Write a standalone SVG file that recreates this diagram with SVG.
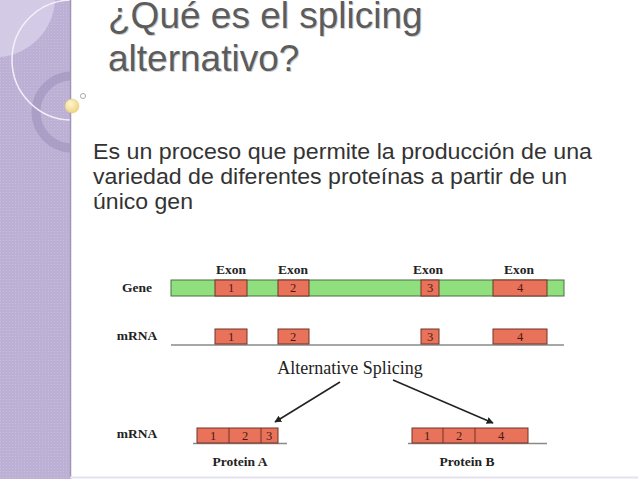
<svg xmlns="http://www.w3.org/2000/svg" width="638" height="479" viewBox="0 0 638 479">
<defs>
<style>
.title{font-family:"Liberation Sans",Arial,sans-serif;font-size:37px;fill:#5c5c5c}
.tshadow{font-family:"Liberation Sans",Arial,sans-serif;font-size:37px;fill:#d0d0d0}
.body{font-family:"Liberation Sans",Arial,sans-serif;font-size:22.5px;fill:#333333}
.lbl{font-family:"Liberation Serif","Times New Roman",serif;font-size:13.5px;font-weight:bold;fill:#222;text-anchor:middle}
.num{font-family:"Liberation Serif","Times New Roman",serif;font-size:12.5px;fill:#4a1a10;text-anchor:middle}
.alt{font-family:"Liberation Serif","Times New Roman",serif;font-size:18px;fill:#222;text-anchor:middle}
.gene{fill:#8fdf7f;stroke:#4d6e45;stroke-width:1}
.exon{fill:#e8725a;stroke:#6e3526;stroke-width:1}
.base{stroke:#8a8a8a;stroke-width:1.5;fill:none}
.arrow{stroke:#222;stroke-width:1.5;fill:none;marker-end:url(#ah)}
</style>
<marker id="ah" viewBox="0 0 10 10" refX="9" refY="5" markerWidth="7" markerHeight="7" markerUnits="userSpaceOnUse" orient="auto">
<path d="M0,0 L10,5 L0,10 z" fill="#222"/>
</marker>
<pattern id="dots" width="3" height="3" patternUnits="userSpaceOnUse">
<rect width="3" height="3" fill="#bcb0d4"/>
<rect width="1" height="1" fill="#c7bddc"/>
</pattern>
<radialGradient id="yel" cx="0.4" cy="0.35" r="0.7">
<stop offset="0" stop-color="#fff6cf"/>
<stop offset="1" stop-color="#ecd27f"/>
</radialGradient>
<clipPath id="side"><rect x="0" y="0" width="70" height="479"/></clipPath>
</defs>
<rect width="638" height="479" fill="#ffffff"/>
<g id="sidebar">
<rect x="0" y="0" width="70" height="479" fill="url(#dots)"/>
<g clip-path="url(#side)">
<path d="M0,0 H55 A60,60 0 0 1 0,57 Z" fill="#d8d1e8" opacity="0.8"/>
<circle cx="72" cy="112" r="36" fill="none" stroke="#a092bd" stroke-width="9" opacity="0.6"/>
<circle cx="72" cy="60" r="60" fill="none" stroke="#f4f0fa" stroke-width="1.5"/>
</g>
<line x1="70.5" y1="0" x2="70.5" y2="479" stroke="#9f93b8" stroke-width="1.5"/>
<circle cx="72" cy="106" r="7" fill="url(#yel)" stroke="#e2c870" stroke-width="0.5"/>
<circle cx="83" cy="96" r="2.5" fill="none" stroke="#aaaaaa" stroke-width="1"/>
<line x1="70" y1="477.5" x2="638" y2="477.5" stroke="#e4e2ef" stroke-width="2"/>
</g>
<g id="title">
<text class="tshadow" x="109" y="29">¿Qué es el splicing</text>
<text class="tshadow" x="109" y="72">alternativo?</text>
<text class="title" x="108" y="28">¿Qué es el splicing</text>
<text class="title" x="108" y="71">alternativo?</text>
</g>
<g id="body">
<text class="body" x="93" y="159" textLength="499" lengthAdjust="spacingAndGlyphs">Es un proceso que permite la producción de una</text>
<text class="body" x="93" y="184" textLength="474" lengthAdjust="spacingAndGlyphs">variedad de diferentes proteínas a partir de un</text>
<text class="body" x="93" y="209" textLength="100" lengthAdjust="spacingAndGlyphs">único gen</text>
</g>
<g id="gene-row">
<text class="lbl" x="137" y="292">Gene</text>
<rect class="gene" x="171" y="280" width="393" height="16"/>
<rect class="exon" x="215" y="280" width="32" height="16"/>
<rect class="exon" x="278" y="280" width="31" height="16"/>
<rect class="exon" x="421" y="280" width="18" height="16"/>
<rect class="exon" x="493" y="280" width="54" height="16"/>
<text class="lbl" x="231" y="274">Exon</text>
<text class="lbl" x="293" y="274">Exon</text>
<text class="lbl" x="428" y="274">Exon</text>
<text class="lbl" x="519" y="274">Exon</text>
<text class="num" x="231" y="292">1</text>
<text class="num" x="293" y="292">2</text>
<text class="num" x="430" y="292">3</text>
<text class="num" x="520" y="292">4</text>
</g>
<g id="mrna-row">
<text class="lbl" x="137" y="340">mRNA</text>
<line class="base" x1="171" y1="345" x2="564" y2="345"/>
<rect class="exon" x="215" y="329" width="32" height="15"/>
<rect class="exon" x="278" y="329" width="31" height="15"/>
<rect class="exon" x="421" y="329" width="18" height="15"/>
<rect class="exon" x="493" y="329" width="54" height="15"/>
<text class="num" x="231" y="341">1</text>
<text class="num" x="293" y="341">2</text>
<text class="num" x="430" y="341">3</text>
<text class="num" x="520" y="341">4</text>
</g>
<g id="alt-label">
<text class="alt" x="350" y="374">Alternative Splicing</text>
</g>
<g id="connectors">
<line class="arrow" x1="340" y1="382" x2="275" y2="422"/>
<line class="arrow" x1="393" y1="380" x2="493" y2="423"/>
</g>
<g id="protein-a">
<text class="lbl" x="137" y="438">mRNA</text>
<line class="base" x1="193" y1="443.5" x2="287" y2="443.5"/>
<rect class="exon" x="197" y="428" width="81" height="15"/>
<line x1="229" y1="428" x2="229" y2="443" stroke="#6e3526"/>
<line x1="261" y1="428" x2="261" y2="443" stroke="#6e3526"/>
<text class="num" x="213" y="440">1</text>
<text class="num" x="245" y="440">2</text>
<text class="num" x="269" y="440">3</text>
<text class="lbl" x="240" y="466">Protein A</text>
</g>
<g id="protein-b">
<line class="base" x1="408" y1="443.5" x2="547" y2="443.5"/>
<rect class="exon" x="412" y="428" width="116" height="15"/>
<line x1="443" y1="428" x2="443" y2="443" stroke="#6e3526"/>
<line x1="475" y1="428" x2="475" y2="443" stroke="#6e3526"/>
<text class="num" x="427" y="440">1</text>
<text class="num" x="459" y="440">2</text>
<text class="num" x="501" y="440">4</text>
<text class="lbl" x="467" y="466">Protein B</text>
</g>
</svg>
